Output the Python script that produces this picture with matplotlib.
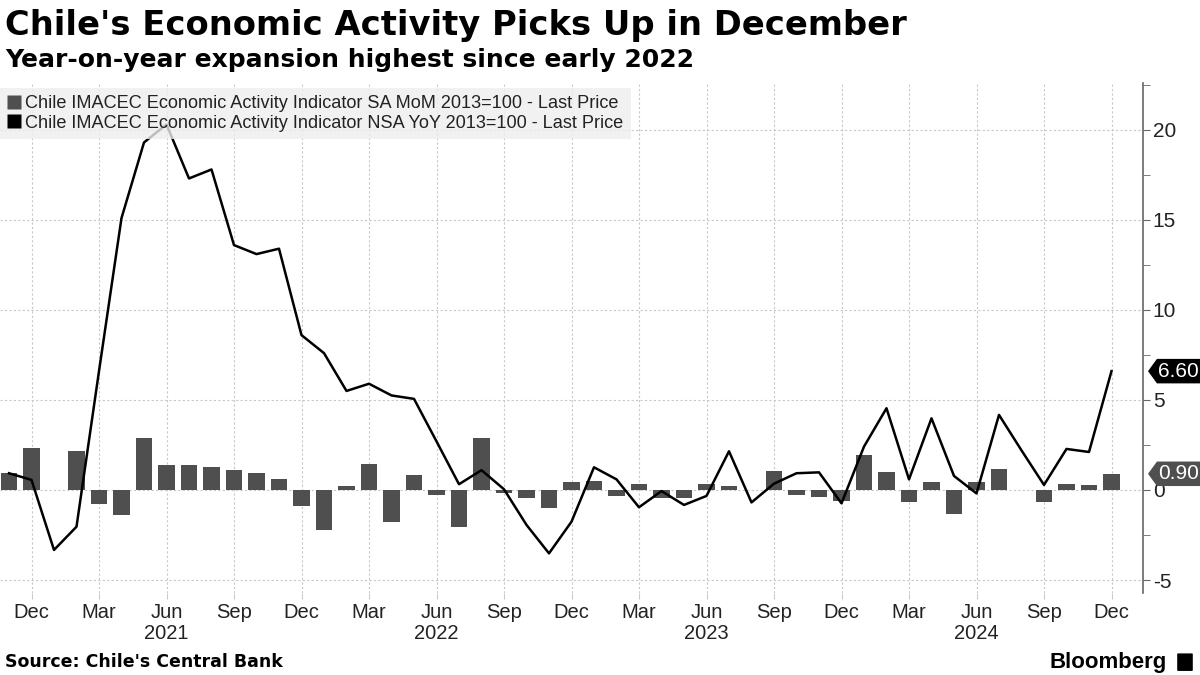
import numpy as np
import pandas as pd
import matplotlib
matplotlib.use("Agg")
import matplotlib.pyplot as plt
import matplotlib.transforms as mtransforms
from matplotlib.lines import Line2D
from matplotlib.patches import FancyBboxPatch, Polygon

# monthly data, Nov 2020 .. Dec 2024
months = pd.date_range("2020-11-01", "2024-12-01", freq="MS")

mom = [0.93, 2.33,
       0.0, 2.17, -0.78, -1.39, 2.89, 1.39, 1.39, 1.28, 1.11, 0.94, 0.61, -0.89,
       -2.22, 0.22, 1.44, -1.76, 0.83, -0.28, -2.04, 2.89, -0.15, -0.43, -0.98, 0.44,
       0.50, -0.33, 0.33, -0.43, -0.43, 0.33, 0.22, 0.02, 1.06, -0.28, -0.41, -0.59,
       1.94, 1.00, -0.65, 0.44, -1.31, 0.44, 1.17, 0.0, -0.65, 0.33, 0.28, 0.90]

yoy = [0.93, 0.56,
       -3.33, -2.04, 6.6, 15.1, 19.3, 20.3, 17.3, 17.8, 13.6, 13.1, 13.4, 8.6,
       7.6, 5.5, 5.9, 5.25, 5.06, 2.7, 0.32, 1.1, 0.04, -1.94, -3.52, -1.76,
       1.26, 0.59, -0.96, -0.06, -0.83, -0.33, 2.15, -0.69, 0.35, 0.93, 0.98, -0.74,
       2.41, 4.54, 0.59, 3.98, 0.78, -0.19, 4.17, 2.2, 0.28, 2.28, 2.11, 6.6]

mom_label = "Chile IMACEC Economic Activity Indicator SA MoM 2013=100 - Last Price"
yoy_label = "Chile IMACEC Economic Activity Indicator NSA YoY 2013=100 - Last Price"

title = "Chile's Economic Activity Picks Up in December"
subtitle = "Year-on-year expansion highest since early 2022"
source = "Source: Chile's Central Bank"

bar_color = "#4f4f4f"
tick_font = ["Liberation Sans", "DejaVu Sans"]

fig = plt.figure(figsize=(12, 6.75), dpi=100)
ax = fig.add_axes([0.0, 0.1215, 0.9525, 0.7555])

x = np.arange(len(months))
ax.bar(x, mom, width=0.75, color=bar_color, zorder=2)
ax.plot(x, yoy, color="black", lw=1.8, zorder=3)

ax.set_xlim(-0.4, 50.4)
ax.set_ylim(-5.72, 22.6)

# x ticks every quarter, year under June
tick_pos = [i for i, m in enumerate(months) if m.month in (3, 6, 9, 12)]
tick_lab = []
for i in tick_pos:
    m = months[i]
    lab = m.strftime("%b")
    if m.month == 6:
        lab += "\n" + str(m.year)
    tick_lab.append(lab)
ax.set_xticks(tick_pos)
ax.set_xticklabels(tick_lab, fontsize=14.5, family=tick_font, color="#222222",
                   linespacing=1.12)
ax.tick_params(axis="x", length=4, color="#cccccc", pad=3)

ax.yaxis.tick_right()
ax.set_yticks([-5, 0, 5, 10, 15, 20])
ax.set_yticks([-2.5, 2.5, 7.5, 12.5, 17.5, 22.5], minor=True)
ax.set_yticklabels(["-5", "0", "5", "10", "15", "20"], fontsize=15,
                   family=tick_font, color="#222222")
ax.tick_params(axis="y", which="major", length=5, color="#666666", pad=2)
ax.tick_params(axis="y", which="minor", length=5, color="#666666")

for s in ["left", "top", "bottom"]:
    ax.spines[s].set_visible(False)
ax.spines["right"].set_color("#666666")
ax.spines["right"].set_linewidth(1.2)

ax.grid(True, which="major", color="#c8c8c8", linestyle=(0, (2, 2)), lw=0.8, zorder=0)
ax.set_axisbelow(True)

# legend
handles = [Line2D([], [], marker="s", color="none", markerfacecolor=bar_color,
                  markeredgecolor="none", markersize=10),
           Line2D([], [], marker="s", color="none", markerfacecolor="black",
                  markeredgecolor="none", markersize=10)]
leg = ax.legend(handles, [mom_label, yoy_label], loc="upper left",
                bbox_to_anchor=(0.0, 0.99), borderaxespad=0.0, frameon=True,
                fancybox=False, handlelength=0.7, handletextpad=0.3,
                labelspacing=0.12, borderpad=0.4, prop={"family": tick_font, "size": 13.1})
leg.get_frame().set_facecolor("#eeeeee")
leg.get_frame().set_edgecolor("none")
leg.get_frame().set_alpha(0.8)
leg.set_zorder(5)
for t in leg.get_texts():
    t.set_color("#222222")

# last value tags
trans = mtransforms.blended_transform_factory(ax.transAxes, ax.transData)
for val, col in [(yoy[-1], "black"), (mom[-1], bar_color)]:
    h = 0.68
    tag = Polygon([(1.0044, val), (1.0122, val + h), (1.06, val + h),
                   (1.06, val - h), (1.0122, val - h)], closed=True,
                  fc=col, ec="none", transform=trans, clip_on=False, zorder=6)
    ax.add_patch(tag)
    ax.text(1.0135, val, f"{val:.2f}", transform=trans, ha="left", va="center",
            fontsize=15, family=tick_font, color="white", zorder=7, clip_on=False)

# titles and footer
fig.text(0.004, 0.962, title, fontsize=24.3, fontweight="bold", ha="left", va="center")
fig.text(0.004, 0.911, subtitle, fontsize=18, fontweight="bold", ha="left", va="center")
fig.text(0.004, 0.019, source, fontsize=12.5, fontweight="bold", ha="left", va="center")
fig.text(0.972, 0.019, "Bloomberg", fontsize=16, fontweight="bold", ha="right",
         va="center", family=["Liberation Sans", "DejaVu Sans"])
fig.patches.append(FancyBboxPatch((0.982, 0.007), 0.011, 0.024,
                                  boxstyle="round,pad=0.001", fc="black", ec="none",
                                  transform=fig.transFigure, figure=fig))

fig.savefig("out.png", dpi=100)
